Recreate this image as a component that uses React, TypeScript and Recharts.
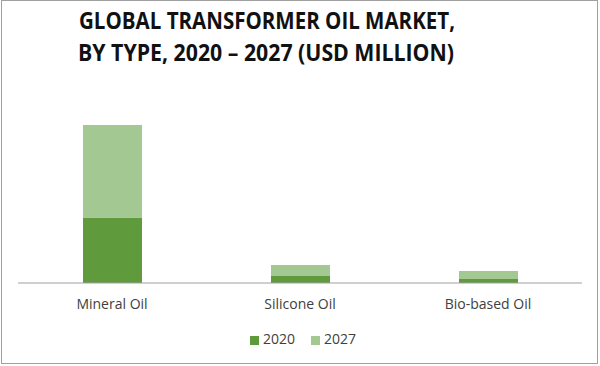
import { BarChart, Bar, XAxis, YAxis, Legend } from "recharts";

const categories = ["Mineral Oil", "Silicone Oil", "Bio-based Oil"];
const values2020 = [65, 7, 4];
const values2027 = [92, 11, 8];

const data = categories.map((name, i) => ({
  name,
  y2020: values2020[i],
  y2027: values2027[i],
}));

const DARK = "#5f9a3c";
const LIGHT = "#a3c892";
const FONT = "'Open Sans', 'Noto Sans', sans-serif";

export default function App() {
  return (
    <div
      style={{
        position: "fixed",
        left: 0,
        top: 0,
        width: 600,
        height: 366,
        background: "#fff",
        fontFamily: FONT,
      }}
    >
      <BarChart
        width={600}
        height={366}
        data={data}
        margin={{ top: 125, right: 18, left: 18, bottom: 28 }}
        barSize={59}
      >
        <XAxis
          dataKey="name"
          height={36}
          axisLine={{ stroke: "#a0a0a0" }}
          tickLine={false}
          tick={{ fill: "#404040", fontSize: 14, fontFamily: FONT }}
          tickMargin={10}
        />
        <YAxis hide domain={[0, 157]} />
        <Legend
          iconType="square"
          iconSize={9}
          wrapperStyle={{
            fontSize: 14,
            color: "#404040",
            bottom: 18,
            paddingLeft: 11,
          }}
          formatter={(v) => (
            <span style={{ color: "#404040", marginRight: 6 }}>{v}</span>
          )}
        />
        <Bar
          dataKey="y2020"
          name="2020"
          stackId="a"
          fill={DARK}
          isAnimationActive={false}
        />
        <Bar
          dataKey="y2027"
          name="2027"
          stackId="a"
          fill={LIGHT}
          isAnimationActive={false}
        />
      </BarChart>

      <svg
        width={600}
        height={366}
        style={{
          position: "absolute",
          left: 0,
          top: 0,
          zIndex: 5,
          pointerEvents: "none",
        }}
      >
        <rect
          x={1.5}
          y={0.5}
          width={596}
          height={363}
          fill="none"
          stroke="#a0a0a0"
          strokeWidth={1}
        />
        <text
          x={267}
          y={29}
          textAnchor="middle"
          fontSize={24}
          fontWeight={700}
          fontFamily={FONT}
          fill="#111"
          textLength={376}
          lengthAdjust="spacingAndGlyphs"
        >
          GLOBAL TRANSFORMER OIL MARKET,
        </text>
        <text
          x={266}
          y={61}
          textAnchor="middle"
          fontSize={24}
          fontWeight={700}
          fontFamily={FONT}
          fill="#111"
          textLength={376}
          lengthAdjust="spacingAndGlyphs"
        >
          BY TYPE, 2020 – 2027 (USD MILLION)
        </text>
      </svg>
    </div>
  );
}
